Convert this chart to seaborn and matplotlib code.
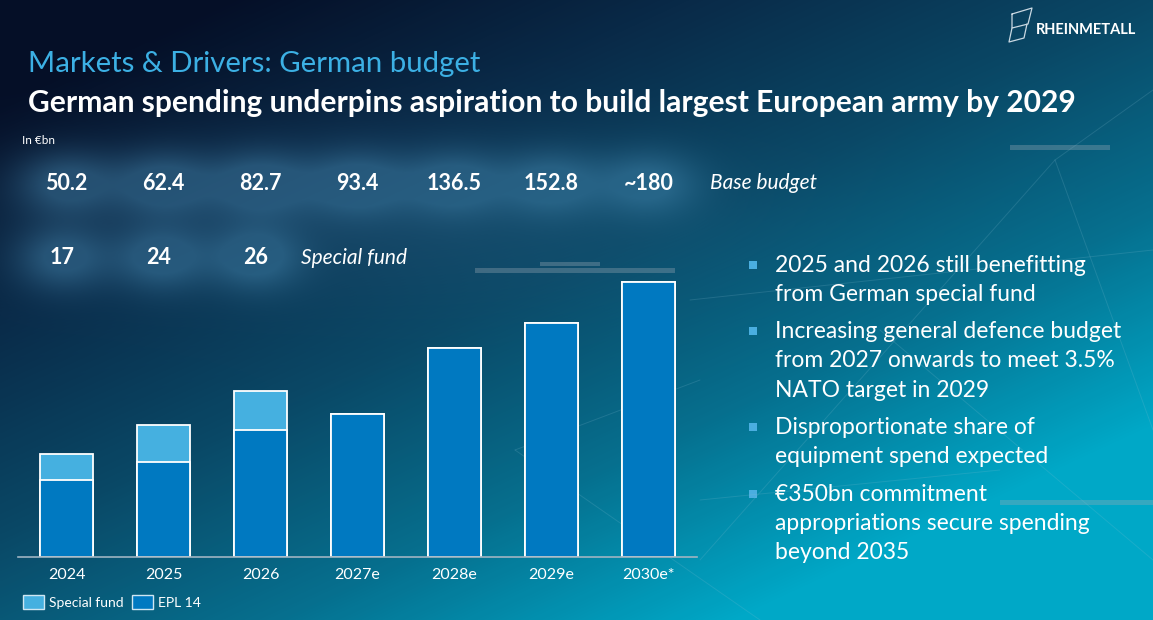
import numpy as np
import pandas as pd
import seaborn as sns
import matplotlib.pyplot as plt
from matplotlib.colors import LinearSegmentedColormap, to_rgb
from matplotlib.patches import Patch, Rectangle
from matplotlib.transforms import blended_transform_factory

# data (in EUR bn)
years = ["2024", "2025", "2026", "2027e", "2028e", "2029e", "2030e*"]
base_budget = [50.2, 62.4, 82.7, 93.4, 136.5, 152.8, 180]
base_labels = ["50.2", "62.4", "82.7", "93.4", "136.5", "152.8", "~180"]
special_fund = [17, 24, 26, 0, 0, 0, 0]
special_labels = ["17", "24", "26"]
bullets = [
    ["2025 and 2026 still benefitting", "from German special fund"],
    ["Increasing general defence budget", "from 2027 onwards to meet 3.5%", "NATO target in 2029"],
    ["Disproportionate share of", "equipment spend expected"],
    ["€350bn commitment", "appropriations secure spending", "beyond 2035"],
]

df = pd.DataFrame({"year": years, "epl": base_budget, "special": special_fund})
df["total"] = df["epl"] + df["special"]

W, H = 1153, 620
FONT = "Lato"
c_special = "#45b0e0"
c_epl = "#0079c1"

sns.set_theme(style="white")
plt.rcParams["font.family"] = [FONT, "DejaVu Sans"]

fig = plt.figure(figsize=(W / 100, H / 100), dpi=100)

# background gradient with glow spots behind the numbers
bg = fig.add_axes([0, 0, 1, 1], zorder=-10)
yy, xx = np.mgrid[0:H, 0:W]
t = np.clip(0.62 * xx / W + 0.72 * yy / H - 0.12, 0, 1)
cmap = LinearSegmentedColormap.from_list(
    "bg", ["#050f27", "#092a48", "#0a4866", "#06708f", "#00a9c8"])
img = cmap(t)[:, :, :3]
glow = np.zeros((H, W))
for cx in [66, 163, 260, 357, 454, 551, 648]:
    glow += np.exp(-(((xx - cx) / 50.0) ** 2 + ((yy - 183) / 32.0) ** 2))
for cx in [62, 160, 255]:
    glow += np.exp(-(((xx - cx) / 46.0) ** 2 + ((yy - 258) / 32.0) ** 2))
glow += 0.4 * np.exp(-(((xx - 350) / 340.0) ** 2 + ((yy - 215) / 80.0) ** 2))
glow = np.clip(glow, 0, 1)[:, :, None]
img = img * (1 - 0.42 * glow) + np.array(to_rgb("#4f96c0")) * 0.42 * glow
bg.imshow(img, extent=[0, W, H, 0], aspect="auto")
# faint network lines
for x0, y0, x1, y1 in [(1055, 160, 1153, 430), (1055, 160, 700, 560), (1055, 160, 1153, 90),
                       (690, 300, 1153, 250), (515, 450, 760, 620), (515, 450, 700, 380),
                       (880, 330, 1153, 560), (700, 500, 1000, 470)]:
    bg.plot([x0, x1], [y0, y1], color="#8fc3d6", lw=0.7, alpha=0.18)
for x0, y0, w0, h0 in [(475, 268, 200, 5), (540, 262, 60, 4), (1010, 145, 100, 5), (1000, 500, 153, 5)]:
    bg.add_patch(Rectangle((x0, y0), w0, h0, color="#9aa9b5", alpha=0.35, lw=0))
bg.set_xlim(0, W)
bg.set_ylim(H, 0)
bg.axis("off")

# bar chart
px_per_unit = 1.53
ax = fig.add_axes([18 / W, 63 / H, 679 / W, 427 / H])
ax.set_facecolor("none")
sns.barplot(data=df, x="year", y="total", color=c_special, width=0.55,
            edgecolor="white", linewidth=1.3, saturation=1, ax=ax)
sns.barplot(data=df, x="year", y="epl", color=c_epl, width=0.55,
            edgecolor="white", linewidth=1.3, saturation=1, ax=ax)
ax.set_xlim(-0.5, len(years) - 0.5)
ax.set_ylim(0, 427 / px_per_unit)
ax.set_xlabel("")
ax.set_ylabel("")
ax.set_yticks([])
for s in ["top", "left", "right"]:
    ax.spines[s].set_visible(False)
ax.spines["bottom"].set_color("#9fb4c2")
ax.spines["bottom"].set_linewidth(1.2)
ax.tick_params(axis="x", length=0, pad=8, labelsize=11.5, labelcolor="white")

# value rows above the bars
tr = blended_transform_factory(ax.transData, fig.transFigure)
for i, lab in enumerate(base_labels):
    ax.text(i, 1 - 183 / H, lab, transform=tr, ha="center", va="center",
            color="white", fontsize=15.5, fontweight="bold")
ax.text(6.63, 1 - 183 / H, "Base budget", transform=tr, ha="left", va="center",
        color="white", fontsize=15, style="italic")
for i, lab in enumerate(special_labels):
    ax.text(i - 0.05, 1 - 258 / H, lab, transform=tr, ha="center", va="center",
            color="white", fontsize=15.5, fontweight="bold")
ax.text(2.42, 1 - 258 / H, "Special fund", transform=tr, ha="left", va="center",
        color="white", fontsize=15, style="italic")

# legend
handles = [Patch(facecolor=c_special, edgecolor="#cfe6f2", label="Special fund"),
           Patch(facecolor=c_epl, edgecolor="#cfe6f2", label="EPL 14")]
fig.legend(handles=handles, loc="lower left", bbox_to_anchor=(13 / W, 0.002), ncol=2,
           frameon=False, fontsize=10, labelcolor="white", handlelength=1.5,
           handleheight=1.2, handletextpad=0.4, columnspacing=0.6, borderaxespad=0.3)

# titles
fig.text(28 / W, 1 - 64 / H, "Markets & Drivers: German budget", color="#3cb0e4",
         fontsize=21.2, va="center", ha="left")
fig.text(28 / W, 1 - 103 / H,
         "German spending underpins aspiration to build largest European army by 2029",
         color="white", fontsize=21.6, fontweight="bold", va="center", ha="left")
fig.text(22 / W, 1 - 141 / H, "In €bn", color="white", fontsize=8.5, va="center", ha="left")

# logo
fig.text(1036 / W, 1 - 30 / H, "RHEINMETALL", color="white", fontsize=10.5,
         fontweight="bold", va="center", ha="left")
bg.plot([1012, 1032, 1028, 1012, 1012], [14, 8, 24, 28, 14], color="#c9d8e2", lw=0.9)
bg.plot([1012, 1009, 1024, 1027], [28, 42, 38, 24], color="#c9d8e2", lw=0.9)

# bullet points
y = 265
for block in bullets:
    bg.add_patch(Rectangle((749, y - 4.5), 8, 8, color="#4aaee0", lw=0))
    for line in block:
        bg.text(775, y, line, color="white", fontsize=16.5, va="center", ha="left")
        y += 29.3
    y += 8

fig.savefig("out.png", dpi=100)
